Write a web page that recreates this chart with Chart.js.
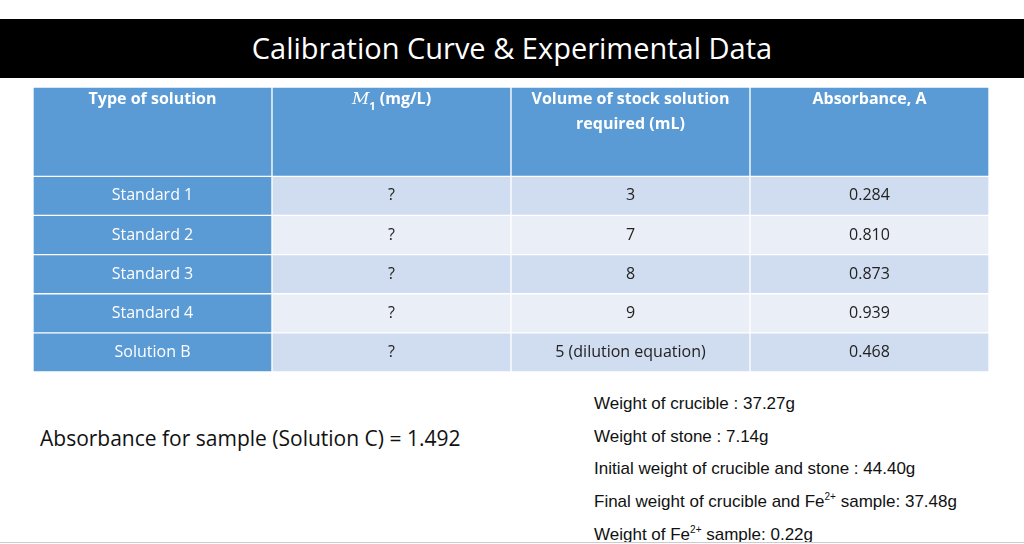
<!DOCTYPE html>
<html><head><meta charset="utf-8">
<script src="https://cdn.jsdelivr.net/npm/chart.js@4/dist/chart.umd.min.js"></script>
<style>
body{margin:0;width:1024px;height:544px;background:#fff;position:relative;overflow:hidden;font-family:"Open Sans",sans-serif}
#title{position:absolute;left:0;top:19px;width:1024px;height:59px;background:#000;color:#fff;font-size:29px;text-align:center;line-height:57px}
#wrap{position:absolute;left:33px;top:87px;width:956px;height:285px}
#absC{position:absolute;left:40px;top:424px;font-size:21px;color:#111}
#weights{position:absolute;left:594px;top:388px;font-family:"Liberation Sans",Arial,sans-serif;font-size:17px;color:#111;line-height:32.7px}
sup{font-size:10px;vertical-align:7px;line-height:0}
#rule{position:absolute;left:0;top:542px;width:1024px;height:1px;background:#ccc}
</style></head><body>
<div id="title">Calibration Curve &amp; Experimental Data</div>
<div id="wrap"><canvas id="c"></canvas></div>
<div id="absC">Absorbance for sample (Solution C) = 1.492</div>
<div id="weights">Weight of crucible : 37.27g<br>Weight of stone : 7.14g<br>Initial weight of crucible and stone : 44.40g<br>Final weight of crucible and Fe<sup>2+</sup> sample: 37.48g<br>Weight of Fe<sup>2+</sup> sample: 0.22g</div>
<div id="rule"></div>
<script>
// table content
const columns = ["Type of solution", "M1 (mg/L)", "Volume of stock solution\nrequired (mL)", "Absorbance, A"];
const solutions = ["Standard 1", "Standard 2", "Standard 3", "Standard 4", "Solution B"];
const conc = ["?", "?", "?", "?", "?"];
const volumes = ["3", "7", "8", "9", "5 (dilution equation)"];
const absorbance = ["0.284", "0.810", "0.873", "0.939", "0.468"];
// row edges (px down the table)
const rowEdges = [0, 89, 128, 167, 206, 245, 284];

const blue = "#5b9bd5", light1 = "#d0dcef", light2 = "#e9eef7";
const rows = [columns].concat(solutions.map((s, i) => [s, conc[i], volumes[i], absorbance[i]]));

const datasets = rows.map((r, i) => ({
  data: columns.map(() => [rowEdges[i], rowEdges[i + 1]]),
  backgroundColor: columns.map((_, j) => (i === 0 || j === 0) ? blue : (i % 2 ? light1 : light2)),
  borderColor: "#fff", borderWidth: 1, borderSkipped: false,
  barPercentage: 1, categoryPercentage: 1, grouped: false
}));

const cellText = {
  id: "cellText",
  afterDatasetsDraw(chart) {
    const ctx = chart.ctx, x = chart.scales.x, y = chart.scales.y;
    ctx.save();
    ctx.textAlign = "center";
    rows.forEach((r, i) => {
      r.forEach((t, j) => {
        const cx = x.getPixelForValue(j);
        if (i === 0) {
          ctx.fillStyle = "#fff";
          ctx.font = "bold 16px 'Open Sans'";
          ctx.textBaseline = "top";
          if (j === 1) {
            ctx.textAlign = "left";
            const a = "M", b = "1", c = " (mg/L)";
            ctx.font = "italic 17px 'DejaVu Serif'"; const wa = ctx.measureText(a).width;
            ctx.font = "bold 11px 'Open Sans'"; const wb = ctx.measureText(b).width;
            ctx.font = "bold 16px 'Open Sans'"; const wc = ctx.measureText(c).width;
            let sx = cx - (wa + wb + wc) / 2;
            ctx.font = "italic 17px 'DejaVu Serif'"; ctx.fillText(a, sx, 4); sx += wa;
            ctx.font = "bold 11px 'Open Sans'"; ctx.fillText(b, sx, 14); sx += wb;
            ctx.font = "bold 16px 'Open Sans'"; ctx.fillText(c, sx, 4);
            ctx.textAlign = "center";
          } else {
            t.split("\n").forEach((ln, k) => ctx.fillText(ln, cx, 4 + k * 25));
          }
        } else {
          ctx.fillStyle = j === 0 ? "#fff" : "#222";
          ctx.font = "16px 'Open Sans'";
          ctx.textBaseline = "middle";
          ctx.fillText(t, cx, y.getPixelForValue((rowEdges[i] + rowEdges[i + 1]) / 2));
        }
      });
    });
    ctx.restore();
  }
};

new Chart(document.getElementById("c"), {
  type: "bar",
  data: { labels: columns, datasets },
  options: {
    responsive: true, maintainAspectRatio: false, animation: false,
    layout: { padding: 0 },
    plugins: { legend: { display: false }, tooltip: { enabled: false } },
    scales: {
      x: { display: false, offset: true },
      y: { display: false, min: 0, max: 284, reverse: true }
    }
  },
  plugins: [cellText]
});
</script>
</body></html>
